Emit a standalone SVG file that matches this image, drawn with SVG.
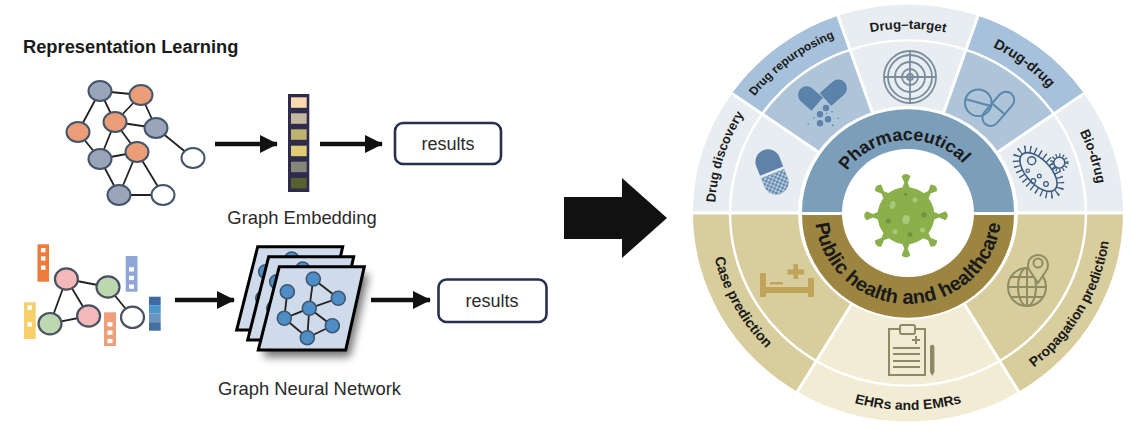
<svg xmlns="http://www.w3.org/2000/svg" xmlns:xlink="http://www.w3.org/1999/xlink" width="1132" height="431" viewBox="0 0 1132 431">
<style>
text{font-family:"Liberation Sans",Arial,sans-serif;fill:#1a1a1a}
.lbl{font-size:18.4px;text-anchor:middle;fill:#2a2a2a}
.res{font-size:18px;text-anchor:middle;fill:#2a2a2a}
.box{fill:#fff;stroke:#27314f;stroke-width:2.6}
.edge{stroke:#222;stroke-width:1.8;fill:none}
.n{stroke:#44546a;stroke-width:2}
.grey{fill:#9aa5bb}.orange{fill:#ea9d76}.white{fill:#fff}
.m{stroke:#4a5160;stroke-width:2.2}
.pink{fill:#f2b8ba}.green{fill:#bcd8b0}
.sq{fill:#fff}
.arrow{stroke:#111;stroke-width:4.5;fill:none;marker-end:url(#head)}
.seg{font-weight:bold;text-anchor:middle}
.ln{fill:none}
.div{stroke:#fff;stroke-width:3}
.gn{fill:#4f8dc6;stroke:#3d5872;stroke-width:1.6}
</style>
<defs>
<marker id="head" markerUnits="userSpaceOnUse" markerWidth="18" markerHeight="18" refX="17" refY="9" orient="auto"><path d="M0,0L18,9L0,18Z" fill="#111"/></marker>
<pattern id="dots" width="5" height="5" patternUnits="userSpaceOnUse"><rect width="5" height="5" fill="#b9cfe0"/><path d="M0,0H2.5V2.5H0ZM2.5,2.5H5V5H2.5Z" fill="#5f83a8"/></pattern>
<filter id="sh" x="-20%" y="-20%" width="150%" height="150%"><feGaussianBlur stdDeviation="4"/></filter>
<g id="layer">
<path d="M279.3,266.700H364.300L345.700,350H258.300Z" fill="#cfdaeb" stroke="#000" stroke-width="3"/>
<path class="edge" stroke-width="1.5" d="M313.300,279L338.300,298.300L309.300,308.300L313.300,279M287.300,291.700L284.300,318.300L309.300,308.300L332.300,325.700L307.300,337.700L284.300,318.300M309.300,308.300L307.300,337.700"/>
<circle class="gn" cx="313.300" cy="279" r="7"/><circle class="gn" cx="338.300" cy="298.300" r="7"/><circle class="gn" cx="287.300" cy="291.700" r="7"/><circle class="gn" cx="309.300" cy="308.300" r="7"/><circle class="gn" cx="284.300" cy="318.300" r="7"/><circle class="gn" cx="332.300" cy="325.700" r="7"/><circle class="gn" cx="307.300" cy="337.700" r="7"/>
</g>
<path id="spike" d="M-5,-25L-1.700,-33L-4.500,-39.500Q0,-44 4.500,-39.500L1.700,-33L5,-25Z" fill="#8aaf4b"/>
<path id="p1" d="M-188.400,41.700A193,193 0 0 1 -130.400,-142.300"/>
<path id="p2" d="M-179.500,-76.200A195,195 0 0 1 -23.800,-193.500"/>
<path id="p3" d="M-95,-164.5A190,190 0 0 1 95,-164.5"/>
<path id="p4" d="M23.300,-189.600A191,191 0 0 1 175.800,-74.600"/>
<path id="p5" d="M129,-140.800A191,191 0 0 1 186.500,41.300"/>
<path id="p6" d="M-197.900,-20.800A199,199 0 0 0 -87.200,178.900"/>
<path id="p7" d="M-101.5,175.8A203,203 0 0 0 101.5,175.8"/>
<path id="p8" d="M85.9,183.9A203,203 0 0 0 202.2,-17.7"/>
<path id="p9" d="M-75,0A75,75 0 0 1 75,0"/>
<path id="p10" d="M-92.6,-8A93,93 0 1 0 92.6,-8"/>
</defs>
<rect width="1132" height="431" fill="#fff"/>
<text x="23" y="53" font-size="18.3" font-weight="bold">Representation Learning</text>

<g id="connectors">
<path class="edge" d="M100,91L141,95M100,91L78,132M100,91L115,122M141,95L115,122M141,95L156,128M115,122L156,128M115,122L100,159M115,122L137,152M78,132L100,159M156,128L193,158M100,159L137,152M100,159L119,195M137,152L119,195M137,152L163,195M119,195L163,195"/>
<path class="edge" stroke-width="2" d="M66.400,279L108,287M66.400,279L50,323.700M66.400,279L88.600,316M50,323.700L88.600,316M108,287L132.500,317.300"/>
<path class="arrow" d="M215,144H277"/>
<path class="arrow" d="M320,144H382"/>
<path class="arrow" d="M175,300H234"/>
<path class="arrow" d="M371,300H430"/>
</g>

<g id="graph-1">
<ellipse class="n grey" cx="100" cy="91" rx="11.5" ry="10"/><ellipse class="n orange" cx="141" cy="95" rx="11.5" ry="10"/><ellipse class="n orange" cx="115" cy="122" rx="11.5" ry="10"/><ellipse class="n orange" cx="78" cy="132" rx="11.5" ry="10"/><ellipse class="n grey" cx="156" cy="128" rx="11.5" ry="10"/><ellipse class="n grey" cx="100" cy="159" rx="11.5" ry="10"/><ellipse class="n orange" cx="137" cy="152" rx="11.5" ry="10"/><ellipse class="n white" cx="193" cy="158" rx="11.5" ry="10"/><ellipse class="n grey" cx="119" cy="195" rx="11.5" ry="10"/><ellipse class="n white" cx="163" cy="195" rx="11.5" ry="10"/>
</g>
<g id="embedding">
<rect x="288" y="94" width="21.3" height="98" fill="#2e2b4d"/>
<rect x="291" y="97.3" width="15.7" height="10.5" fill="#fdd9b0"/><rect x="291" y="113.3" width="15.7" height="10.5" fill="#c2b9a0"/><rect x="291" y="129.3" width="15.7" height="10.5" fill="#bdb36f"/><rect x="291" y="145.7" width="15.7" height="10.5" fill="#e0cc76"/><rect x="291" y="161.7" width="15.7" height="10.5" fill="#85877a"/><rect x="291" y="178" width="15.7" height="10.5" fill="#55622e"/>
</g>
<g id="results-1"><rect class="box" x="395" y="123" width="106" height="41" rx="8"/><text class="res" x="448" y="150">results</text></g>
<text class="lbl" x="302" y="224">Graph Embedding</text>

<g id="graph-2">
<ellipse class="m pink" cx="66.400" cy="279" rx="11.500" ry="10.700"/><ellipse class="m green" cx="108" cy="287" rx="11.500" ry="10.700"/><ellipse class="m green" cx="50" cy="323.700" rx="11.500" ry="10.700"/><ellipse class="m pink" cx="88.600" cy="316" rx="11.500" ry="10.700"/><ellipse class="m white" cx="132.500" cy="317.300" rx="11.500" ry="10.700"/>
<rect x="37.5" y="244.300" width="11.5" height="37.400" fill="#ee7a3b"/><rect class="sq" x="41" y="248" width="4.5" height="4.300"/><rect class="sq" x="41" y="256.300" width="4.5" height="4.300"/><rect class="sq" x="41" y="265.500" width="4.5" height="4.300"/>
<rect x="125.7" y="256" width="11.8" height="35.700" fill="#8fa6d6"/><rect class="sq" x="129" y="267.200" width="5" height="4.300"/><rect class="sq" x="129" y="275.800" width="5" height="4.300"/><rect class="sq" x="129" y="284.500" width="5" height="4.300"/>
<rect x="24" y="302.300" width="11.7" height="36.700" fill="#f6cf6a"/><rect class="sq" x="27.5" y="305.500" width="4.5" height="4.300"/><rect class="sq" x="27.5" y="322.200" width="4.5" height="4.300"/>
<rect x="104" y="312.300" width="12" height="33.700" fill="#ef9f77"/><rect class="sq" x="107.5" y="322.200" width="5" height="4.300"/><rect class="sq" x="107.5" y="330.500" width="5" height="4.300"/><rect class="sq" x="107.5" y="338.900" width="5" height="4.300"/>
<rect x="149" y="296.700" width="11.7" height="8.500" fill="#3e6ba6"/><rect x="149" y="305.200" width="11.7" height="8.500" fill="#4a97c8"/><rect x="149" y="313.700" width="11.7" height="8.500" fill="#6a94bf"/><rect x="149" y="322.200" width="11.7" height="8.500" fill="#44709f"/>
</g>
<g id="gnn">
<path d="M284,274H369L350,357H263Z" fill="#000" opacity=".55" filter="url(#sh)"/>
<use xlink:href="#layer" href="#layer" transform="translate(-21.600,-20)"/>
<use xlink:href="#layer" href="#layer" transform="translate(-10.600,-10)"/>
<use xlink:href="#layer" href="#layer"/>
</g>
<g id="results-2"><rect class="box" x="438.5" y="279.500" width="108" height="42.500" rx="8"/><text class="res" x="492" y="307">results</text></g>
<text class="lbl" x="309.6" y="395">Graph Neural Network</text>

<path id="big-arrow" d="M564,197H622V178L667,218L622,258V239H564Z" fill="#111"/>

<g id="wheel" transform="translate(908,213) scale(1,.97)">
<g id="drug-discovery"><path d="M0,0L-215,0A215,215 0 0 1 -176.1,-123.3Z" fill="#e8edf2"/></g>
<g id="drug-repurposing"><path d="M0,0L-176.1,-123.3A215,215 0 0 1 -70,-203.3Z" fill="#a6c1d9"/><path d="M0,0L-145.800,-102.100A178,178 0 0 1 -58,-168.300Z" fill="#aec5d9"/></g>
<g id="drug-target"><path d="M0,0L-70,-203.3A215,215 0 0 1 70,-203.3Z" fill="#e8edf2"/></g>
<g id="drug-drug"><path d="M0,0L70,-203.3A215,215 0 0 1 176.1,-123.3Z" fill="#a6c1d9"/><path d="M0,0L58,-168.300A178,178 0 0 1 145.800,-102.100Z" fill="#aec5d9"/></g>
<g id="bio-drug"><path d="M0,0L176.1,-123.3A215,215 0 0 1 215,0Z" fill="#e8edf2"/></g>
<g id="case-prediction"><path d="M0,0L-215,0A215,215 0 0 0 -110.7,184.3Z" fill="#d8cd9c"/></g>
<g id="ehrs"><path d="M0,0L-110.7,184.3A215,215 0 0 0 110.7,184.3Z" fill="#f3ecd4"/></g>
<g id="propagation"><path d="M0,0L110.7,184.3A215,215 0 0 0 215,0Z" fill="#d8cd9c"/></g>
<circle cx="0" cy="0" r="178" fill="none" stroke="#fff" stroke-width="2.5"/>
<path class="div" d="M0,0L-176.1,-123.3M0,0L-70,-203.3M0,0L70,-203.3M0,0L176.1,-123.3M0,0L-110.7,184.3M0,0L110.7,184.3M-216,0H216"/>
<circle r="110" fill="#fff"/>
<path d="M-106,-1A106,106 0 0 1 106,-1Z" fill="#7b9fba"/>
<path d="M-106,2A106,106 0 0 0 106,2Z" fill="#9b8540"/>
<circle r="66" fill="#fff"/>
<text class="seg" font-size="13.2"><textPath href="#p1" xlink:href="#p1" startOffset="50%">Drug discovery</textPath></text>
<text class="seg" font-size="12"><textPath href="#p2" xlink:href="#p2" startOffset="50%">Drug repurposing</textPath></text>
<text class="seg" font-size="13.3"><textPath href="#p3" xlink:href="#p3" startOffset="50%">Drug–target</textPath></text>
<text class="seg" font-size="14.5"><textPath href="#p4" xlink:href="#p4" startOffset="50%">Drug-drug</textPath></text>
<text class="seg" font-size="13.5"><textPath href="#p5" xlink:href="#p5" startOffset="50%">Bio-drug</textPath></text>
<text class="seg" font-size="14.4"><textPath href="#p6" xlink:href="#p6" startOffset="50%">Case prediction</textPath></text>
<text class="seg" font-size="14"><textPath href="#p7" xlink:href="#p7" startOffset="50%">EHRs and EMRs</textPath></text>
<text class="seg" font-size="14"><textPath href="#p8" xlink:href="#p8" startOffset="50%">Propagation prediction</textPath></text>
<text class="seg" font-size="18"><textPath href="#p9" xlink:href="#p9" startOffset="48%">Pharmaceutical</textPath></text>
<text class="seg" font-size="20"><textPath href="#p10" xlink:href="#p10" startOffset="50%">Public health and healthcare</textPath></text>
</g>

<g id="virus" transform="translate(906,215.7)">
<use xlink:href="#spike" href="#spike"/><use xlink:href="#spike" href="#spike" transform="rotate(45)"/><use xlink:href="#spike" href="#spike" transform="rotate(90)"/><use xlink:href="#spike" href="#spike" transform="rotate(135)"/><use xlink:href="#spike" href="#spike" transform="rotate(180)"/><use xlink:href="#spike" href="#spike" transform="rotate(225)"/><use xlink:href="#spike" href="#spike" transform="rotate(270)"/><use xlink:href="#spike" href="#spike" transform="rotate(315)"/>
<circle r="28.500" fill="#8aaf4b"/>
<ellipse cx="0" cy="3.700" rx="3.700" ry="4.500" transform="rotate(20 0 3.700)" fill="#a8c978"/><ellipse cx="-13.300" cy="-10.700" rx="2.700" ry="4" transform="rotate(20 -13.300 -10.700)" fill="#a8c978"/><circle cx="9" cy="-15.700" r="2.500" fill="#a8c978"/><circle cx="-11" cy="16" r="2.500" fill="#a8c978"/><circle cx="16.700" cy="14.300" r="2.500" fill="#a8c978"/>
<circle cx="-17.700" cy="5.300" r="2.500" fill="#6e9440"/><circle cx="18" cy="-.7" r="2.700" fill="#6e9440"/><circle cx="4" cy="18.700" r="2.500" fill="#6e9440"/><circle cx="-.3" cy="-21.300" r="1.600" fill="#6e9440"/>
</g>

<g id="icon-capsule" transform="translate(772,172) rotate(-22)">
<path d="M-12.5,-1V-11a12.5,12.5 0 0 1 25,0V-1Z" fill="#5f83a8"/>
<path d="M-12.5,1.500H12.500V11a12.5,12.5 0 0 1 -25,0Z" fill="url(#dots)"/>
</g>
<g id="icon-pills" fill="#5b82ab">
<path d="M-8.700,14V0a8.700,8.700 0 0 1 17.400,0V14Z" transform="translate(806.700,95) rotate(-49)"/>
<path d="M-8.700,17V0a8.700,8.700 0 0 1 17.400,0V17Z" transform="translate(838.300,88.300) rotate(49)"/>
<circle cx="826" cy="108" r="3.200"/><circle cx="820" cy="114.300" r="3.200"/><circle cx="828" cy="119.300" r="3.200"/><circle cx="820" cy="123.300" r="3.200"/><circle cx="814" cy="118" r=".8"/><circle cx="838.300" cy="118.300" r=".8"/><circle cx="808.300" cy="124" r=".8"/><circle cx="832.700" cy="125.300" r="1"/><circle cx="832" cy="111.700" r=".8"/><circle cx="826.500" cy="113.500" r=".8"/>
</g>
<g id="icon-target" class="ln" stroke="#7b8d9c" stroke-width="1.800">
<circle cx="910" cy="77" r="26"/><circle cx="910" cy="77" r="22"/><circle cx="910" cy="77" r="15"/><circle cx="910" cy="77" r="8"/><circle cx="910" cy="77" r="3"/>
<path d="M884,77H936M910,51V103"/>
</g>
<g id="icon-tablets" class="ln" stroke="#5c87ad" stroke-width="2">
<circle cx="978.300" cy="102.700" r="13.300"/><path d="M966,99.300L990.700,106"/>
<g transform="translate(998.300,108.800) rotate(40.800)"><rect x="-8.300" y="-20" width="16.600" height="40" rx="8.300"/><path d="M-8.300,0H8.300"/></g>
</g>
<g id="icon-bacteria" class="ln" stroke="#3a5a80">
<ellipse cx="1038.500" cy="172" rx="27" ry="14.500" transform="rotate(47 1038.500 172)" stroke-width="9" stroke-dasharray="1.300 3.800"/>
<ellipse cx="1038.500" cy="172" rx="24" ry="12" transform="rotate(47 1038.500 172)" stroke-width="1.600" fill="#e8edf2"/>
<circle cx="1031.700" cy="160.700" r="4" stroke-width="1.500"/><circle cx="1027.700" cy="170.700" r="1.700" stroke-width="1.200"/><circle cx="1039.300" cy="176" r="1.900" stroke-width="1.200"/><circle cx="1033.300" cy="181" r="2.300" stroke-width="1.300"/><circle cx="1046" cy="184" r="2.300" stroke-width="1.300"/>
<circle cx="1059.300" cy="162.700" r="7.500" stroke-width="3.500" stroke-dasharray="1.200 2.300"/><circle cx="1059.300" cy="162.700" r="5.500" stroke-width="1.500" fill="#e8edf2"/>
</g>
<g id="icon-bed" fill="#c1a45a">
<rect x="760" y="273" width="6" height="24" rx="1"/><rect x="808" y="278" width="6" height="19" rx="1"/><rect x="766" y="287" width="42" height="6"/><rect x="770" y="282" width="13" height="2.500"/>
<path d="M793.500,264H798V269.500H804V274.500H798V279H793.500V274.500H787.500V269.500H793.500Z"/>
</g>
<g id="icon-globe" class="ln" stroke="#8d8c62" stroke-width="2">
<circle cx="1027" cy="287" r="19"/><ellipse cx="1027" cy="287" rx="9" ry="19"/><path d="M1027,268V306M1008,287H1046M1011,277H1043M1011,297H1043"/>
<path d="M1038,283L1030,271A10,10 0 1 1 1046,271Z" fill="#d8cd9c"/><circle cx="1038" cy="263" r="4.500"/>
</g>
<g id="icon-clipboard" class="ln" stroke="#8b8a64" stroke-width="2">
<rect x="889" y="329" width="36" height="46" fill="#f3ecd4"/><rect x="900" y="325" width="15" height="9" rx="2" fill="#f3ecd4"/>
<path d="M916,336V344M912,340H920M893,348H920M893,354H920M893,361H920M893,367H920"/>
<path d="M930,347a2.200,2.200 0 0 1 4.400,0V372L932.200,376L930,372Z" fill="#8b8a64" stroke="none"/>
</g>
</svg>
